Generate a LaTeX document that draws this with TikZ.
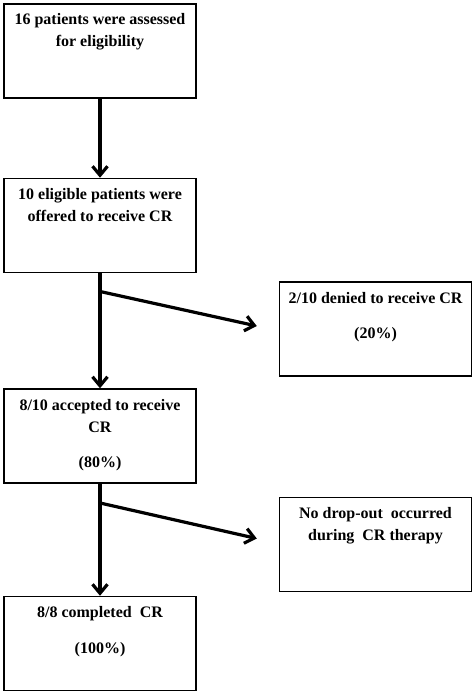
\documentclass[tikz,border=0pt]{standalone}
\usepackage{fontspec}
\setmainfont{Liberation Serif}
\usepackage{tikz}
\usetikzlibrary{arrows.meta, positioning, calc}
\newcommand{\flowtext}[1]{\parbox[c][94pt][t]{186pt}{\centering\rule{0pt}{21pt}#1}}

\begin{document}
\begin{tikzpicture}[x=1pt, y=-1pt,
  box/.style={rectangle, draw=black, line width=1.5pt, fill=white, minimum width=192pt, minimum height=94pt, inner sep=0pt, font=\fontsize{16}{22}\selectfont\bfseries},
  arrow/.style={-{Straight Barb[length=9pt, width=15pt]}, line width=3.2pt, draw=black}
]
\useasboundingbox (0,0) rectangle (474,692);
\node[box] (assess) at (100,51) {\flowtext{16 patients were assessed\\for eligibility}};
\node[box, below=79pt of assess] (offer) {\flowtext{10 eligible patients were\\offered to receive CR}};
\node[box, below=115pt of offer] (accept) {\flowtext{8/10 accepted to receive\\CR\\[13pt](80\%)}};
\node[box, below=112pt of accept] (done) {\flowtext{8/8 completed\ \ CR\\[14pt](100\%)}};
\node[box, below right=8pt and 82pt of offer.south east] (deny) {\flowtext{2/10 denied\ to receive CR\\[13pt](20\%)}};
\node[box, below right=13pt and 82pt of accept.south east] (nodrop) {\flowtext{No drop-out\ \ occurred\\during\ \ CR therapy}};
\draw[arrow] (assess) -- (offer);
\draw[arrow] (offer) -- (accept);
\draw[arrow] (accept) -- (done);
% branches
\coordinate (split1) at ($(offer.south)+(-1,18)$);
\coordinate (tip1) at ($(deny.west)+(-22,-3)$);
\draw[arrow] (split1) -- (tip1);
\coordinate (split2) at ($(accept.south)+(-1,19)$);
\coordinate (tip2) at ($(nodrop.west)+(-22,-6)$);
\draw[arrow] (split2) -- (tip2);
\end{tikzpicture}
\end{document}
